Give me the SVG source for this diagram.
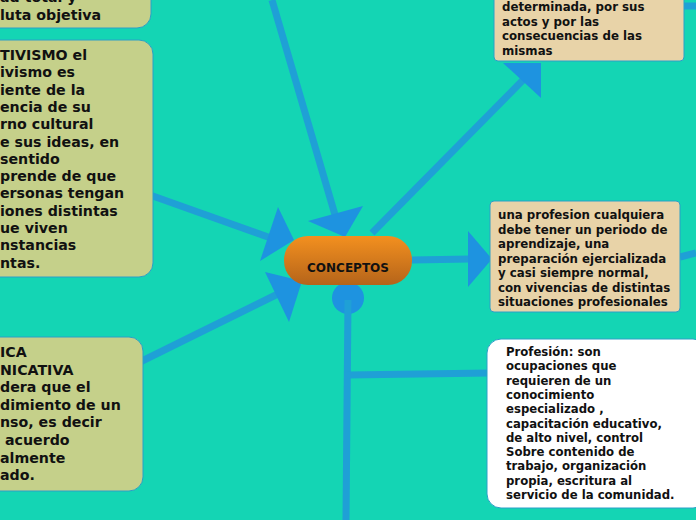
<svg xmlns="http://www.w3.org/2000/svg" width="696" height="520" viewBox="0 0 696 520">
<defs>
<style>
.ln{stroke:#1fa0d6;stroke-width:7;fill:none}
.ah{fill:#1e93e0}
.g{fill:#c5d08a;stroke:#2aa0c8;stroke-width:1}
.t{fill:#e8d3a8;stroke:#2aa0c8;stroke-width:1}
.w{fill:#fff;stroke:#2aa0c8;stroke-width:1}
text{font-family:"DejaVu Sans",Verdana,sans-serif;font-weight:bold;fill:#111}
.g14{font-size:14.2px}
.s12{font-size:11.8px}
.s11{font-size:11.7px}
</style>
<linearGradient id="og" x1="0" y1="0" x2="0" y2="1"><stop offset="0" stop-color="#f3901f"/><stop offset="1" stop-color="#b5641a"/></linearGradient>
</defs>
<rect width="696" height="520" fill="#14d5b4"/>
<g id="connectors">
<line class="ln" x1="272" y1="0" x2="338" y2="225"/>
<polygon class="ah" points="308,221 363,206 345,237"/>
<line class="ln" x1="150" y1="195" x2="282" y2="242"/>
<polygon class="ah" points="278,207 260,261 294,240"/>
<line class="ln" x1="140" y1="362" x2="290" y2="288"/>
<polygon class="ah" points="265,272 289,322 302,281"/>
<line class="ln" x1="372" y1="233" x2="525" y2="78"/>
<polygon class="ah" points="503,63 541,63 541,98"/>
<line class="ln" x1="412" y1="260" x2="470" y2="259"/>
<polygon class="ah" points="468,231 468,287 492,259"/>
<line class="ln" x1="680" y1="257" x2="696" y2="253"/>
<line class="ln" x1="684" y1="6" x2="696" y2="6"/>
<circle cx="348" cy="298" r="16" fill="#1e93e0"/>
<line class="ln" x1="348" y1="300" x2="346" y2="520"/>
<line class="ln" x1="347" y1="375" x2="490" y2="373"/>
</g>
<g id="center">
<rect x="284" y="236" width="128" height="49" rx="24" fill="url(#og)"/>
<text x="348" y="272" text-anchor="middle" font-size="12">CONCEPTOS</text>
</g>
<g id="n-top-left">
<rect class="g" x="-15" y="-15" width="166" height="43" rx="14"/>
<text class="g14" x="0" y="2">ad total y</text>
<text class="g14" x="0" y="20">luta objetiva</text>
</g>
<g id="n-relativismo">
<rect class="g" x="-15" y="40" width="168" height="237" rx="14"/>
<text class="g14"><tspan x="0" y="60">TIVISMO el</tspan><tspan x="0" y="77.3">ivismo es</tspan><tspan x="0" y="94.6">iente de la</tspan><tspan x="0" y="111.9">encia de su</tspan><tspan x="0" y="129.2">rno cultural</tspan><tspan x="0" y="146.5">e sus ideas, en</tspan><tspan x="0" y="163.8">sentido</tspan><tspan x="0" y="181.1">prende de que</tspan><tspan x="0" y="198.4">ersonas tengan</tspan><tspan x="0" y="215.7">iones distintas</tspan><tspan x="0" y="233">ue viven</tspan><tspan x="0" y="250.3">nstancias</tspan><tspan x="0" y="267.6">ntas.</tspan></text>
</g>
<g id="n-comunicativa">
<rect class="g" x="-15" y="337" width="158" height="154" rx="14"/>
<text class="g14"><tspan x="0" y="357">ICA</tspan><tspan x="0" y="374.6">NICATIVA</tspan><tspan x="0" y="392.2">dera que el</tspan><tspan x="0" y="409.8">dimiento de un</tspan><tspan x="0" y="427.4">nso, es decir</tspan><tspan x="0" y="445"> acuerdo</tspan><tspan x="0" y="462.6">almente</tspan><tspan x="0" y="480.2">ado.</tspan></text>
</g>
<g id="n-top-right">
<rect class="t" x="494" y="-10" width="190" height="71" rx="4"/>
<text class="s12"><tspan x="502" y="11">determinada, por sus</tspan><tspan x="502" y="25.5">actos y por las</tspan><tspan x="502" y="40">consecuencias de las</tspan><tspan x="502" y="54.5">mismas</tspan></text>
</g>
<g id="n-profesion-cualquiera">
<rect class="t" x="490" y="201" width="190" height="111" rx="4"/>
<text class="s12"><tspan x="498" y="219">una profesion cualquiera</tspan><tspan x="498" y="233.5">debe tener un periodo de</tspan><tspan x="498" y="248">aprendizaje, una</tspan><tspan x="498" y="262.5">preparación ejercializada</tspan><tspan x="498" y="277">y casi siempre normal,</tspan><tspan x="498" y="291.5">con vivencias de distintas</tspan><tspan x="498" y="306">situaciones profesionales</tspan></text>
</g>
<g id="n-profesion">
<rect class="w" x="487" y="339" width="220" height="169" rx="14"/>
<text class="s11"><tspan x="506" y="356">Profesión: son</tspan><tspan x="506" y="370.3">ocupaciones que</tspan><tspan x="506" y="384.6">requieren de un</tspan><tspan x="506" y="398.9">conocimiento</tspan><tspan x="506" y="413.2">especializado ,</tspan><tspan x="506" y="427.5">capacitación educativo,</tspan><tspan x="506" y="441.8">de alto nivel, control</tspan><tspan x="506" y="456.1">Sobre contenido de</tspan><tspan x="506" y="470.4">trabajo, organización</tspan><tspan x="506" y="484.7">propia, escritura al</tspan><tspan x="506" y="499">servicio de la comunidad.</tspan></text>
</g>
</svg>
